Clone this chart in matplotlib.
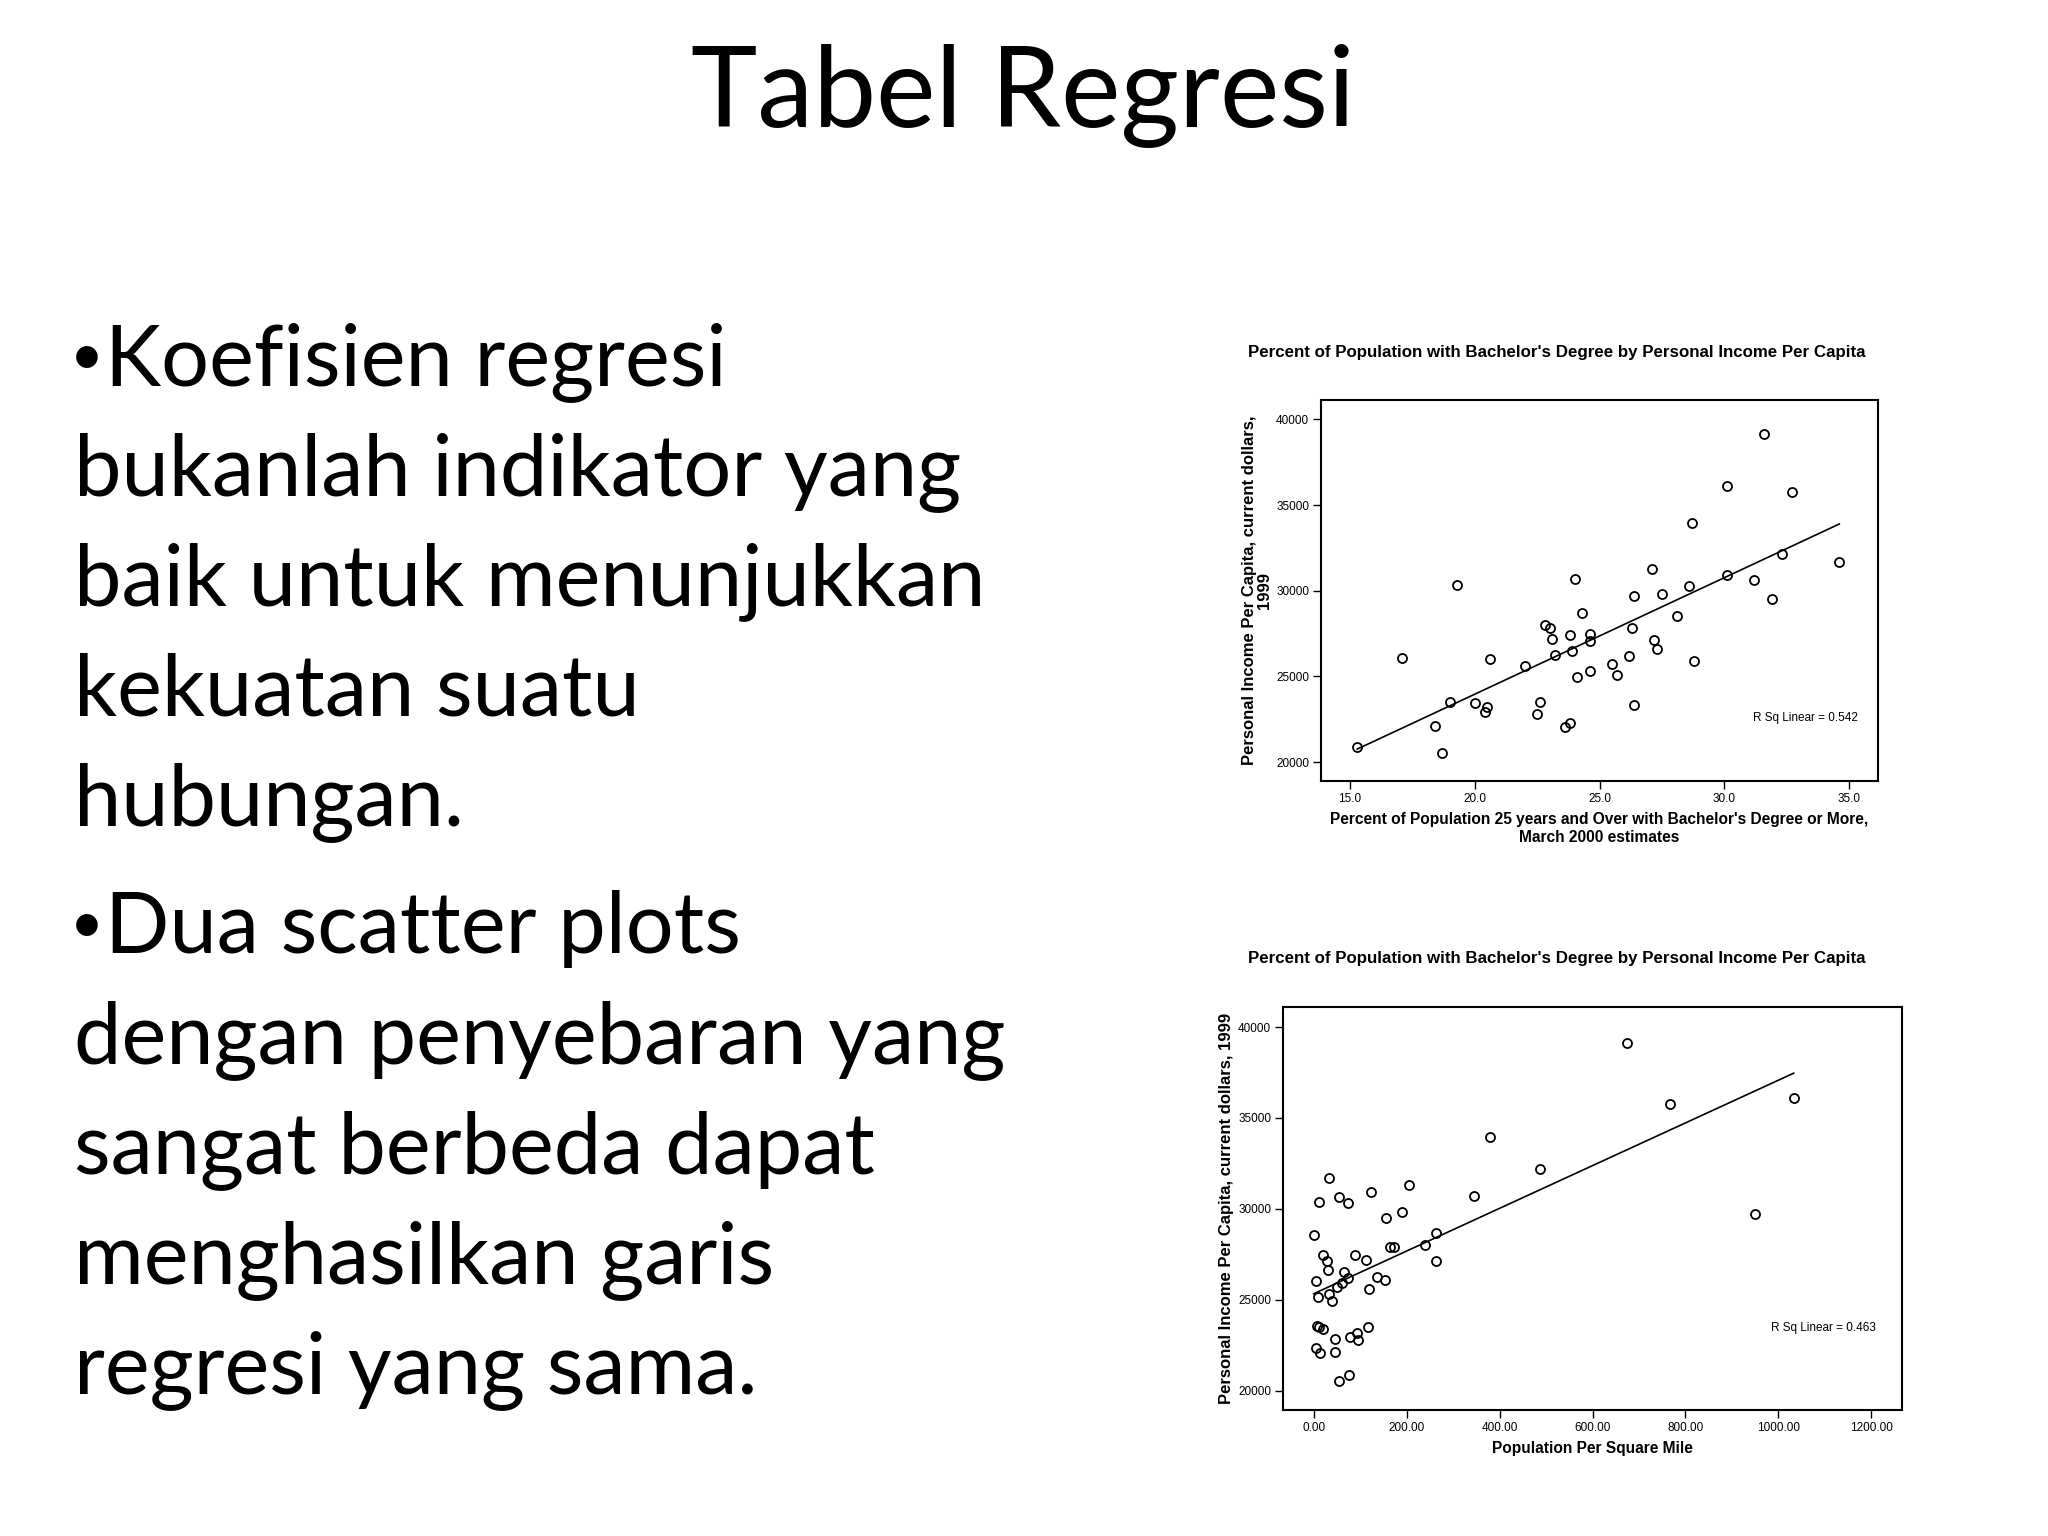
import numpy as np
import matplotlib.pyplot as plt

# slide text
judul = "Tabel Regresi"
poin1 = ["Koefisien regresi", "bukanlah indikator yang", "baik untuk menunjukkan",
         "kekuatan suatu", "hubungan."]
poin2 = ["Dua scatter plots", "dengan penyebaran yang", "sangat berbeda dapat",
         "menghasilkan garis", "regresi yang sama."]

# chart 1: % bachelor's degree vs income per capita
bach_pct = [15.3, 17.1, 18.4, 18.7, 19.0, 19.3, 20.0, 20.4, 20.5, 20.6,
            22.0, 22.5, 22.6, 22.8, 23.0, 23.1, 23.2, 23.6, 23.8, 23.8,
            23.9, 24.0, 24.1, 24.3, 24.6, 24.6, 24.6, 25.5, 25.7, 26.2,
            26.3, 26.4, 26.4, 27.1, 27.2, 27.3, 27.5, 28.1, 28.6, 28.7,
            28.8, 30.1, 30.1, 31.2, 31.6, 31.9, 32.3, 32.7, 34.6]
income1 = [20900, 26100, 22120, 20520, 23520, 30360, 23440, 22950, 23190, 26000,
           25600, 22800, 23520, 28030, 27850, 27210, 26240, 22060, 22310, 27420,
           26510, 30690, 24940, 28690, 27460, 27070, 25310, 25730, 25110, 26200,
           27850, 29720, 23360, 31270, 27130, 26630, 29820, 28530, 30300, 33940,
           25910, 36090, 30900, 30610, 39160, 29490, 32170, 35740, 31680]

# chart 2: population density vs income per capita
pop_density = [0, 4, 5, 9, 8, 12, 11, 13, 21, 21,
               29, 30, 32, 32, 40, 46, 45, 50, 54, 55,
               62, 65, 73, 74, 75, 79, 90, 93, 95, 112,
               116, 119, 123, 136, 154, 156, 164, 172, 190, 205,
               239, 264, 264, 344, 380, 486, 674, 767, 949, 1033]
income2 = [28540, 26030, 22350, 25130, 23540, 23500, 30370, 22070, 23370, 27470,
           27160, 26650, 31700, 25340, 24960, 22840, 22130, 25730, 20520, 30650,
           25930, 26550, 30300, 26220, 20890, 22950, 27450, 23200, 22810, 27200,
           23500, 25600, 30910, 26230, 26100, 29500, 27900, 27900, 29830, 31290,
           28040, 28700, 27110, 30690, 33950, 32180, 39140, 35750, 29740, 36100]

judul_grafik = "Percent of Population with Bachelor's Degree by Personal Income Per Capita"
narrow = ['Liberation Sans Narrow', 'Liberation Sans', 'DejaVu Sans']
sans = ['Liberation Sans', 'DejaVu Sans']
slide_font = ['Lato', 'DejaVu Sans']

fig = plt.figure(figsize=(20.48, 15.36), dpi=100)
W, H = 2048, 1536

def fx(px):
    return px / W

def fy(py):
    return 1 - py / H

# slide title and bullets
fig.text(fx(1023), fy(127), judul, ha='center', va='baseline',
         fontsize=81, family=slide_font)
for poin, y0 in [(poin1, 385), (poin2, 953)]:
    fig.text(fx(70), fy(y0 - 10), "•", ha='left', va='baseline',
             fontsize=42, family=slide_font)
    for i, baris in enumerate(poin):
        x0 = 105 if i == 0 else 74
        fig.text(fx(x0), fy(y0 + i * 110), baris, ha='left', va='baseline',
                 fontsize=61, family=slide_font)


def scatter_panel(box, x, y, xlim, ylim, xticks, xfmt, ylabel, xlabel, rsq, rpos, title_y):
    l, t, r, b = box
    ax = fig.add_axes([fx(l), fy(b), fx(r) - fx(l), fy(t) - fy(b)])
    ax.plot(x, y, 'o', mfc='none', mec='black', ms=6.5, mew=1.3)
    slope, icpt = np.polyfit(x, y, 1)
    xs = np.array([min(x), max(x)])
    ax.plot(xs, icpt + slope * xs, color='black', lw=1.2)
    ax.set_xlim(*xlim)
    ax.set_ylim(*ylim)
    ax.set_xticks(xticks)
    ax.set_xticklabels([xfmt.format(v) for v in xticks])
    ax.set_yticks([20000, 25000, 30000, 35000, 40000])
    for sp in ax.spines.values():
        sp.set_linewidth(1.5)
    ax.tick_params(length=5.5, width=1, labelsize=8.5, pad=3)
    for lb in ax.get_xticklabels() + ax.get_yticklabels():
        lb.set_family(narrow)
    ax.set_ylabel(ylabel, fontsize=12, fontweight='bold', family=sans, labelpad=3,
                  linespacing=1.0)
    ax.set_xlabel(xlabel, fontsize=11.2, fontweight='bold', family=narrow, labelpad=5,
                  linespacing=1.3)
    ax.text(rpos[0], rpos[1], rsq, transform=ax.transAxes, ha='center', va='center',
            fontsize=8.5, family=narrow)
    fig.text(fx(1557), fy(title_y), judul_grafik, ha='center', va='center',
             fontsize=12.2, fontweight='bold', family=narrow)
    return ax


ax1 = scatter_panel((1321, 400, 1878, 781),
                    bach_pct, income1, (13.85, 36.15), (18900, 41130),
                    [15, 20, 25, 30, 35], "{:.1f}",
                    "Personal Income Per Capita, current dollars,\n1999",
                    "Percent of Population 25 years and Over with Bachelor's Degree or More,\nMarch 2000 estimates",
                    "R Sq Linear = 0.542", (0.87, 0.166), 352)

ax2 = scatter_panel((1283, 1007, 1902, 1410),
                    pop_density, income2, (-66, 1266), (18940, 41100),
                    [0, 200, 400, 600, 800, 1000, 1200], "{:.2f}",
                    "Personal Income Per Capita, current dollars, 1999",
                    "Population Per Square Mile",
                    "R Sq Linear = 0.463", (0.873, 0.204), 958)

plt.savefig('out.png', dpi=100)
